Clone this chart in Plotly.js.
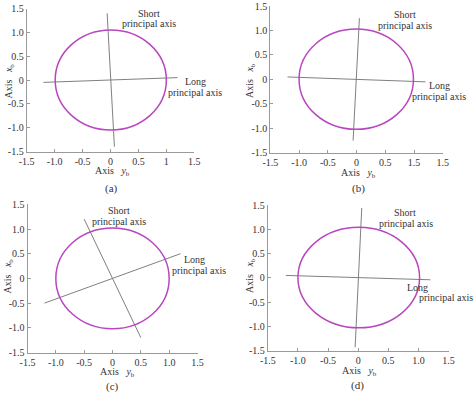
<!DOCTYPE html>
<html>
<head>
<meta charset="utf-8">
<script src="https://cdn.plot.ly/plotly-3.0.1.min.js"></script>
<style>html,body{margin:0;padding:0;background:#fff;}#chart{width:474px;height:393px;}</style>
</head>
<body>
<div id="chart"></div>
<script>
// ---- data ----
const panelLabels = ['(a)', '(b)', '(c)', '(d)'];
const tickVals = [-1.5, -1, -0.5, 0, 0.5, 1, 1.5];
const yTickText = ['-1.5', '-1.0', '-0.5', '0', '0.5', '1.0', '1.5'];
const xTickTextA = ['-1.5', '-1.0', '-0.5', '0', '0.5', '1', '1.5'];
const xTickTextB = ['-1.5', '-1.0', '-0.5', '0', '0.5', '1.5', '1.5'];
const xTickTextC = ['-1.5', '-1.0', '-0.5', '0', '0.5', '1.0', '1.5'];
const xTickTextD = ['-1.5', '-1.0', '-0.5', '0', '0.5', '1.0', '1.5'];

// ellipse bounding extents per panel
const ellipseXMin = [-0.99, -1.0, -1.0, -1.0];
const ellipseXMax = [1.0, 0.99, 1.0, 1.02];
const ellipseYMin = [-1.05, -1.02, -1.02, -1.03];
const ellipseYMax = [1.05, 1.03, 1.02, 1.04];

// long principal axis segments
const longStartX = [-1.2, -1.2, -1.2, -1.2];
const longStartY = [-0.05, 0.05, -0.5, 0.05];
const longEndX = [1.2, 1.2, 1.2, 1.2];
const longEndY = [0.05, -0.05, 0.5, -0.04];

// short principal axis segments
const shortStartX = [-0.06, 0.05, -0.5, 0.06];
const shortStartY = [1.4, 1.25, 1.2, 1.44];
const shortEndX = [0.07, -0.06, 0.5, -0.05];
const shortEndY = [-1.4, -1.25, -1.2, -1.43];

const shortLabel = ['Short', 'principal axis'];
const longLabel = ['Long', 'principal axis'];

// ---- styling / layout ----
const W = 474, H = 393;
const FONT = '"Liberation Serif", "Times New Roman", serif';
const TXT = '#333333';
const ELLIPSE_COLOR = '#b846be';
const PA_COLOR = '#808080';

// panel pixel boxes [left, right, top, bottom]
const boxes = [
  [26.7, 194.3, 8.5, 151.5],
  [270.3, 442.8, 6, 152.8],
  [27.5, 197.5, 204.3, 352.5],
  [267.8, 448.5, 205, 350.7]
];
const xTickTexts = [xTickTextA, xTickTextB, xTickTextC, xTickTextD];

// label pixel positions (center)
const shortPos = [
  [[149, 13.3], [149, 24]],
  [[405.3, 15], [405.3, 25.7]],
  [[119, 210], [119.3, 221]],
  [[405.3, 212.7], [406, 223.3]]
];
const longPos = [
  [[195.3, 81.7], [195, 92.3]],
  [[439, 85.7], [439, 96.7]],
  [[194.3, 259.3], [198.7, 270]],
  [[417, 287.7], [446.3, 297.7]]
];
const xTitlePos = [[112, 171.5], [358, 173], [117, 372.5], [359, 371.5]];
const yTitlePos = [[8.5, 81], [250, 81], [7.5, 276], [250, 276]];
const panelPos = [[111, 188.5], [358, 188.5], [112, 386], [357.7, 385.3]];

const px = (x) => x / W;
const py = (y) => 1 - y / H;

const traces = [];
const shapes = [];
const annotations = [];
const layout = {
  width: W, height: H,
  margin: {l: 0, r: 0, t: 0, b: 0},
  paper_bgcolor: '#ffffff',
  plot_bgcolor: '#ffffff',
  showlegend: false,
  font: {family: FONT, size: 10, color: TXT}
};

function ann(text, x, y, size, extra) {
  annotations.push(Object.assign({
    text: text, xref: 'paper', yref: 'paper', x: px(x), y: py(y),
    xanchor: 'center', yanchor: 'middle', showarrow: false,
    font: {family: FONT, size: size, color: TXT}
  }, extra || {}));
}

for (let i = 0; i < 4; i++) {
  const s = i === 0 ? '' : String(i + 1);
  const xa = 'x' + s, ya = 'y' + s;
  const b = boxes[i];
  const common = {
    range: [-1.5, 1.5], showgrid: false, zeroline: false,
    showline: true, linecolor: '#9a9a9a', linewidth: 1,
    ticks: 'inside', ticklen: 3, tickcolor: '#9a9a9a', tickwidth: 1,
    tickmode: 'array', tickvals: tickVals,
    tickfont: {family: FONT, size: 10, color: TXT},
    fixedrange: true, automargin: false
  };
  layout['xaxis' + s] = Object.assign({}, common, {
    domain: [px(b[0]), px(b[1])], anchor: ya,
    ticktext: xTickTexts[i], tickangle: 0
  });
  layout['yaxis' + s] = Object.assign({}, common, {
    domain: [py(b[3]), py(b[2])], anchor: xa,
    ticktext: yTickText
  });

  traces.push({
    type: 'scatter', mode: 'lines', xaxis: xa, yaxis: ya,
    x: [longStartX[i], longEndX[i]], y: [longStartY[i], longEndY[i]],
    line: {color: PA_COLOR, width: 1}, hoverinfo: 'skip'
  });
  traces.push({
    type: 'scatter', mode: 'lines', xaxis: xa, yaxis: ya,
    x: [shortStartX[i], shortEndX[i]], y: [shortStartY[i], shortEndY[i]],
    line: {color: PA_COLOR, width: 1}, hoverinfo: 'skip'
  });

  shapes.push({
    type: 'circle', xref: xa, yref: ya,
    x0: ellipseXMin[i], x1: ellipseXMax[i], y0: ellipseYMin[i], y1: ellipseYMax[i],
    line: {color: ELLIPSE_COLOR, width: 1.5}, fillcolor: 'rgba(0,0,0,0)'
  });

  for (let k = 0; k < 2; k++) {
    ann(shortLabel[k], shortPos[i][k][0], shortPos[i][k][1], 10);
    ann(longLabel[k], longPos[i][k][0], longPos[i][k][1], 10);
  }
  ann('Axis\u00a0\u00a0\u00a0<i>y</i><sub>b</sub>', xTitlePos[i][0], xTitlePos[i][1], 10);
  ann('Axis\u00a0\u00a0\u00a0<i>x</i><sub>b</sub>', yTitlePos[i][0], yTitlePos[i][1], 10, {textangle: -90});
  ann(panelLabels[i], panelPos[i][0], panelPos[i][1], 11);
}

layout.shapes = shapes;
layout.annotations = annotations;

Plotly.newPlot('chart', traces, layout, {staticPlot: true, displayModeBar: false});
</script>
</body>
</html>
